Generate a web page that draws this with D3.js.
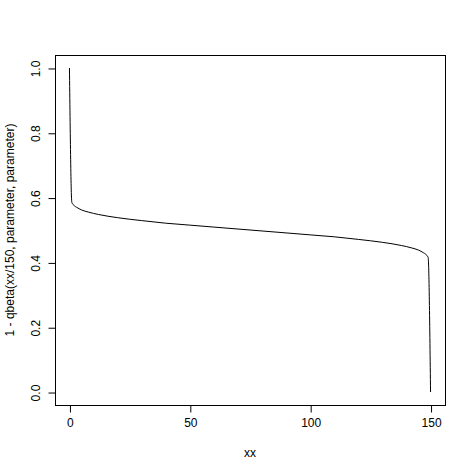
<!DOCTYPE html>
<html>
<head>
<meta charset="utf-8">
<script src="https://cdn.jsdelivr.net/npm/d3@7"></script>
<style>
  body { margin: 0; background: #fff; }
  svg text { font-family: Arial, "Liberation Sans", sans-serif; font-size: 12px; fill: #000; }
</style>
</head>
<body>
<div id="chart"></div>
<script>
// values (xx -> 1 - qbeta(xx/150, p, p))
var xxValues = [0, 1, 2, 3, 5, 8, 12, 20, 30, 40, 50, 60, 75, 90, 100, 110, 120, 130, 138, 142, 145, 147, 148, 149, 150];
var yValues = [1.0, 0.585, 0.575, 0.570, 0.562, 0.555, 0.548, 0.538, 0.529, 0.521, 0.515, 0.509, 0.500, 0.491, 0.485, 0.479, 0.471, 0.462, 0.452, 0.445, 0.438, 0.430, 0.425, 0.415, 0.0];
var xTicks = [0, 50, 100, 150];
var yTicks = [0.0, 0.2, 0.4, 0.6, 0.8, 1.0];
var xLabel = "xx";
var yLabel = "1 - qbeta(xx/150, parameter, parameter)";

var width = 474, height = 474;
var box = {left: 55, right: 445, top: 55, bottom: 405};

var svg = d3.select("#chart").append("svg")
    .attr("width", width)
    .attr("height", height);

// R style: 4% padding on each side
var x = d3.scaleLinear().domain([-6, 156]).range([box.left, box.right]);
var y = d3.scaleLinear().domain([-0.04, 1.04]).range([box.bottom, box.top]);

var data = xxValues.map(function(d, i) { return {xx: d, v: yValues[i]}; });

// plot box
svg.append("rect")
    .attr("x", box.left + 0.5)
    .attr("y", box.top + 0.5)
    .attr("width", box.right - box.left)
    .attr("height", box.bottom - box.top)
    .style("fill", "none")
    .style("stroke", "#000")
    .style("stroke-width", 1);

// x axis
var xAxis = svg.append("g")
    .attr("transform", "translate(0.5," + (box.bottom + 0.5) + ")")
    .call(d3.axisBottom(x).tickValues(xTicks).tickSize(7).tickPadding(6).tickFormat(d3.format("d")));
xAxis.select(".domain").attr("d", "M" + x(0) + ",0H" + x(150));
xAxis.selectAll("line, path").style("stroke", "#000");
xAxis.selectAll("text").style("font-size", "12px").style("font-family", "Arial, 'Liberation Sans', sans-serif");

// y axis, labels turned like R's las=0
var yAxis = svg.append("g")
    .attr("transform", "translate(" + (box.left + 0.5) + ",0.5)")
    .call(d3.axisLeft(y).tickValues(yTicks).tickSize(7).tickFormat(d3.format(".1f")));
yAxis.select(".domain").attr("d", "M0," + y(0) + "V" + y(1));
yAxis.selectAll("line, path").style("stroke", "#000");
yAxis.selectAll("text")
    .attr("x", 0)
    .attr("dy", null)
    .attr("transform", "translate(-16,0) rotate(-90)")
    .style("text-anchor", "middle")
    .style("font-size", "12px")
    .style("font-family", "Arial, 'Liberation Sans', sans-serif");

// curve
var line = d3.line()
    .x(function(d) { return x(d.xx); })
    .y(function(d) { return y(d.v); })
    .curve(d3.curveMonotoneX);

svg.append("path")
    .datum(data)
    .attr("d", line)
    .style("fill", "none")
    .style("stroke", "#000")
    .style("stroke-width", 1);

// axis titles
svg.append("text")
    .attr("x", (box.left + box.right) / 2)
    .attr("y", 457)
    .attr("text-anchor", "middle")
    .text(xLabel);

svg.append("text")
    .attr("transform", "translate(14," + ((box.top + box.bottom) / 2) + ") rotate(-90)")
    .attr("text-anchor", "middle")
    .text(yLabel);
</script>
</body>
</html>
